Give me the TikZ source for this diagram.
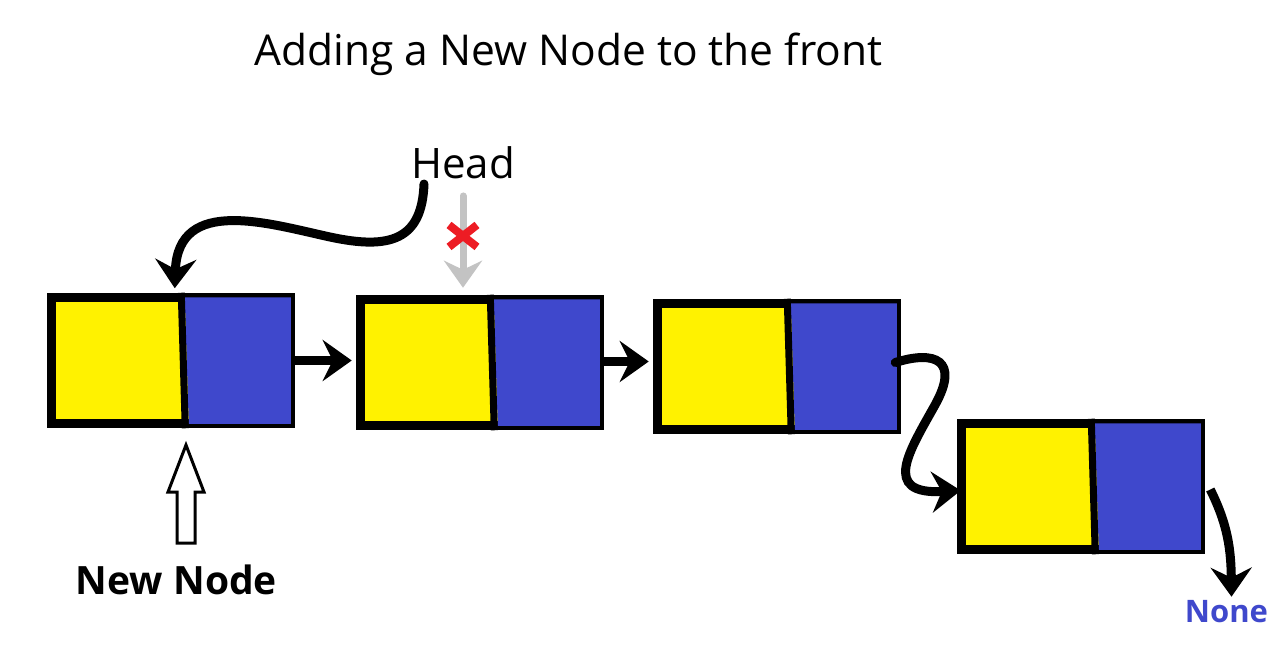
\documentclass[tikz,border=0pt]{standalone}
\usepackage{fontspec}
\setmainfont{Open Sans}
\usetikzlibrary{arrows.meta,calc}
\definecolor{cellyellow}{HTML}{FFF200}
\definecolor{cellblue}{HTML}{3F48CC}
\definecolor{crossred}{HTML}{ED1C24}
\definecolor{oldgray}{HTML}{C3C3C3}
\tikzset{
  cell/.style={draw=black, fill=cellyellow, line width=9.5pt, minimum width=239pt, minimum height=126pt, inner sep=0pt},
  link/.style={draw=black, line width=9pt, -{Stealth[length=29pt,width=41pt,inset=10pt]}},
  gone/.style={draw=oldgray, line width=7pt, line cap=round, -{Stealth[length=27pt,width=38pt,inset=9pt]}},
}
\begin{document}
\begin{tikzpicture}[x=1pt,y=-1pt]
      \useasboundingbox (0,0) rectangle (1284,648);
      \node[anchor=base, font=\fontsize{42.5}{50}\selectfont] (title) at (568.5,65) {Adding a New Node to the front};
      % the four list nodes
      \node[cell] (n1) at (171,360.5) {};
      \node[cell] (n2) at (480,362.5) {};
      \node[cell] (n3) at (777,366.5) {};
      \node[cell] (n4) at (1081,486.5) {};
      \foreach \c in {n1,n2,n3,n4} {
        \fill[cellblue] ($(\c.north west)+(138,4.5)$) -- ($(\c.north east)+(-4.5,4.5)$) -- ($(\c.south east)+(-4.5,-4.5)$) -- ($(\c.south west)+(142,-4.5)$) -- cycle;
        \draw[line width=7pt] ($(\c.north west)+(134.5,0)$) -- ($(\c.south west)+(138.5,0)$);
      }
      % labels
      \node[anchor=base, font=\fontsize{42}{50}\selectfont] (head) at (463,178) {Head};
      \node[anchor=base, font=\fontsize{39}{46}\selectfont\bfseries] (newnode) at (176.5,594) {New Node};
      \node[anchor=base, inner sep=0pt, text=cellblue, font=\fontsize{31}{36}\selectfont\bfseries] (none) at (1226.5,622) {None};
      % head pointers
      \coordinate (hstart) at (424,184);
      \draw[link, line cap=round] (hstart) .. controls (422,240) and (390,250) .. (330,237)
            .. controls (270,224) and (178,195) .. ($(n1.north west)+(128,-4.5)$);
      \draw[gone] ($(head.south)+(0,14)$) -- ($(head.south |- n2.north)+(0,-7)$);
      \draw[crossred, line width=8pt] ($(head.south)+(-14,43)$) -- ($(head.south)+(14,65)$);
      \draw[crossred, line width=8pt] ($(head.south)+(-14,65)$) -- ($(head.south)+(14,43)$);
      % next pointers
      \draw[link] (n1.east) -- ($(n1.east -| n2.west)+(-4,0)$);
      \draw[link] ($(n2.east)+(0,-1)$) -- ($(n2.east -| n3.west)+(-4,-1)$);
      \draw[link, line cap=round] ($(n3.east)+(-6,-4)$) .. controls (935,350) and (960,360) .. (935,405)
            .. controls (910,450) and (880,495) .. ($(n4.west)+(4,4)$);
      \draw[link] ($(n4.east)+(5,3)$) .. controls (1228,525) and (1231,550) .. ($(none.north)+(5,-3)$);
      % new node marker
      \draw[line width=3pt, line join=miter] (186,445) -- (204,492) -- (195,492) -- (195,543) -- (177,543) -- (177,492) -- (168,492) -- cycle;
    \end{tikzpicture}
\end{document}
